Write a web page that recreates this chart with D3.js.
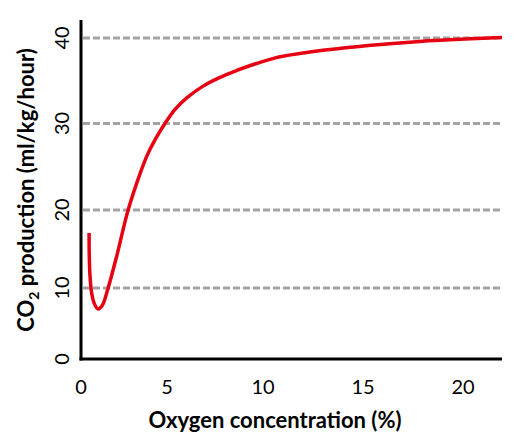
<!DOCTYPE html>
<html>
<head>
<meta charset="utf-8">
<script src="https://cdn.jsdelivr.net/npm/d3@7"></script>
<style>
  body { margin: 0; background: #fff; }
  text { font-family: Lato, "Open Sans", sans-serif; }
</style>
</head>
<body>
<div id="chart"></div>
<script>
// tick values
const xTicks = [0, 5, 10, 15, 20];
const yTicks = [0, 10, 20, 30, 40];
const gridValues = [10, 20, 30, 40];

// curve points (oxygen %, CO2 ml/kg/hour)
const oxygen = [0.47, 0.48, 0.52, 0.61, 0.76, 0.99, 1.25, 1.51, 2.09, 2.69, 3.24, 3.82, 4.3, 4.88, 5.42, 6.03, 6.9, 7.76, 8.63, 9.5, 10.35, 10.85, 13.1, 17.85, 22];
const co2 =    [17.05, 14.2, 11.7, 9.45, 7.9, 7.05, 7.6, 9.45, 14.2, 19.6, 23.1, 26.2, 28.1, 30, 31.65, 33.0, 34.4, 35.4, 36.2, 36.9, 37.5, 37.8, 38.6, 39.6, 40.05];

const W = 525, H = 439;

const svg = d3.select("#chart").append("svg")
  .attr("width", W)
  .attr("height", H);

// the original figure is slightly stretched, so the scales are piecewise
const x = d3.scaleLinear()
  .domain([0, 5, 10, 15, 20, 22])
  .range([81, 167, 263, 363, 463, 502]);

const y = d3.scaleLinear()
  .domain([0, 10, 20, 30, 40])
  .range([359, 288, 210, 123.5, 38]);

// dashed gridlines
svg.append("g")
  .selectAll("line")
  .data(gridValues)
  .join("line")
  .attr("x1", x(0) + 2)
  .attr("x2", x(22))
  .attr("y1", d => y(d))
  .attr("y2", d => y(d))
  .attr("stroke", "#a3a3a3")
  .attr("stroke-width", 3)
  .attr("stroke-dasharray", "7,3");

// axes lines
svg.append("line")
  .attr("x1", x(0)).attr("x2", x(0))
  .attr("y1", 20).attr("y2", y(0) + 1.5)
  .attr("stroke", "#000").attr("stroke-width", 3);

svg.append("line")
  .attr("x1", x(0) - 1.5).attr("x2", x(22))
  .attr("y1", y(0)).attr("y2", y(0))
  .attr("stroke", "#000").attr("stroke-width", 3);

// x tick labels
svg.append("g")
  .selectAll("text")
  .data(xTicks)
  .join("text")
  .attr("x", d => x(d))
  .attr("y", 394)
  .attr("text-anchor", "middle")
  .attr("font-size", 20)
  .attr("fill", "#000")
  .text(d => d);

// y tick labels (rotated)
svg.append("g")
  .selectAll("text")
  .data(yTicks)
  .join("text")
  .attr("transform", d => `translate(69,${y(d)}) rotate(-90)`)
  .attr("text-anchor", "middle")
  .attr("font-size", 20)
  .attr("fill", "#000")
  .text(d => d);

// curve
const data = oxygen.map((o, i) => ({ o: o, c: co2[i] }));
const line = d3.line()
  .x(d => x(d.o))
  .y(d => y(d.c))
  .curve(d3.curveCatmullRom.alpha(0.5));

svg.append("path")
  .datum(data)
  .attr("d", line)
  .attr("fill", "none")
  .attr("stroke", "#e60012")
  .attr("stroke-width", 3.5);

// axis titles
svg.append("text")
  .attr("x", 275)
  .attr("y", 428)
  .attr("text-anchor", "middle")
  .attr("font-size", 22)
  .attr("font-weight", "bold")
  .attr("fill", "#000")
  .text("Oxygen concentration (%)");

const yTitle = svg.append("text")
  .attr("transform", "translate(34,190) rotate(-90)")
  .attr("text-anchor", "middle")
  .attr("font-size", 22)
  .attr("font-weight", "bold")
  .attr("fill", "#000");
yTitle.append("tspan").text("CO");
yTitle.append("tspan").attr("font-size", 14).attr("dy", 5).text("2");
yTitle.append("tspan").attr("dy", -5).text(" production (ml/kg/hour)");
</script>
</body>
</html>
